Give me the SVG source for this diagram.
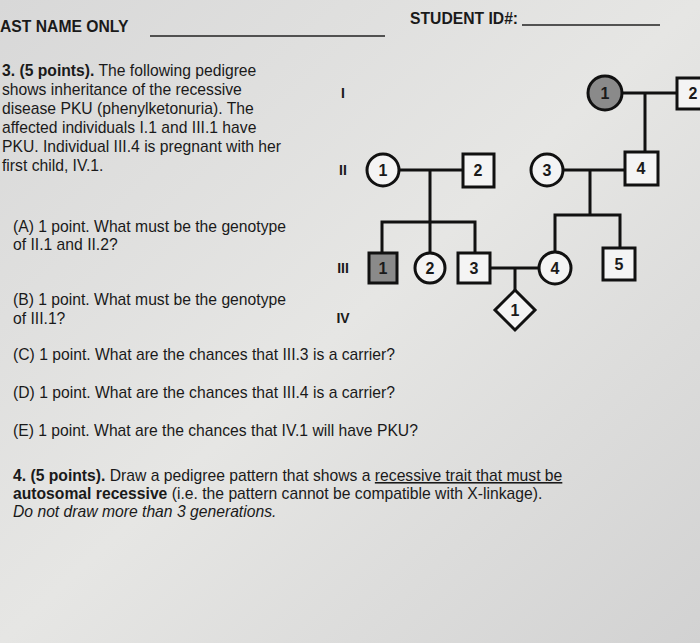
<svg xmlns="http://www.w3.org/2000/svg" width="700" height="643" viewBox="0 0 700 643">
<defs>
<linearGradient id="bg" x1="0" y1="0" x2="1" y2="1">
<stop offset="0" stop-color="#d8d8d8"/><stop offset="0.5" stop-color="#e6e6e4"/><stop offset="1" stop-color="#d2d2d2"/>
</linearGradient>
</defs>
<style>
text{font-family:"Liberation Sans",Arial,sans-serif;fill:#1a1a1a;font-size:15.7px}
.b{font-weight:bold}
.n{font-weight:bold;font-size:16px;text-anchor:middle}
.g{font-weight:bold;font-size:14px;text-anchor:middle}
.s{fill:#f4f4f4;stroke:#111;stroke-width:3}
.a{fill:#8a8a8a;stroke:#111;stroke-width:3}
.l{stroke:#111;stroke-width:3;fill:none}
</style>
<rect width="700" height="643" fill="url(#bg)"/>
<text x="0" y="32" class="b" font-size="15">AST NAME ONLY</text>
<line x1="150" y1="36" x2="385" y2="36" stroke="#222" stroke-width="1.5"/>
<text x="410" y="24" class="b" font-size="15">STUDENT ID#:</text>
<line x1="522" y1="25" x2="660" y2="25" stroke="#222" stroke-width="1.5"/>
<g>
<text x="2" y="76"><tspan class="b">3. (5 points).</tspan> The following pedigree</text>
<text x="2" y="95">shows inheritance of the recessive</text>
<text x="2" y="114">disease PKU (phenylketonuria). The</text>
<text x="2" y="133">affected individuals I.1 and III.1 have</text>
<text x="2" y="152">PKU. Individual III.4 is pregnant with her</text>
<text x="2" y="171">first child, IV.1.</text>
<text x="13" y="232">(A) 1 point. What must be the genotype</text>
<text x="13" y="250">of II.1 and II.2?</text>
<text x="13" y="305">(B) 1 point. What must be the genotype</text>
<text x="13" y="324">of III.1?</text>
<text x="13" y="360">(C) 1 point.  What are the chances that III.3 is a carrier?</text>
<text x="13" y="398">(D) 1 point.  What are the chances that III.4 is a carrier?</text>
<text x="13" y="436">(E) 1 point. What are the chances that IV.1 will have PKU?</text>
<text x="13" y="481" font-size="15"><tspan class="b">4. (5 points).</tspan> Draw a pedigree pattern that shows a <tspan text-decoration="underline">recessive trait that must be</tspan></text>
<text x="13" y="499" font-size="15"><tspan class="b">autosomal recessive</tspan> (i.e. the pattern cannot be compatible with X-linkage).</text>
<text x="13" y="517" font-size="15" font-style="italic">Do not draw more than 3 generations.</text>
</g>
<g id="gen-labels">
<text x="343" y="98" class="g">I</text>
<text x="343" y="175" class="g">II</text>
<text x="343" y="273" class="g">III</text>
<text x="343" y="323" class="g">IV</text>
</g>
<g id="connectors" class="l">
<path class="l" d="M622 93H677M645 93V152"/>
<path class="l" d="M399 170H463M430 170V222M382 253V222H475V253M430 222V253"/>
<path class="l" d="M563 170H625M590 170V215M555 252V215H620V248"/>
<path class="l" d="M490 268H539M515 268V290"/>
</g>
<g id="I1"><circle cx="605" cy="93" r="17" class="a"/><text x="605" y="99" class="n">1</text></g>
<g id="I2"><rect x="677" y="78" width="32" height="31" class="s"/><text x="693" y="99" class="n">2</text></g>
<g id="II1"><circle cx="383" cy="170" r="16" class="s"/><text x="383" y="176" class="n">1</text></g>
<g id="II2"><rect x="463" y="154" width="31" height="33" class="s"/><text x="478" y="176" class="n">2</text></g>
<g id="II3"><circle cx="547" cy="170" r="16" class="s"/><text x="547" y="176" class="n">3</text></g>
<g id="II4"><rect x="625" y="152" width="33" height="33" class="s"/><text x="641" y="174" class="n">4</text></g>
<g id="III1"><rect x="369" y="253" width="28" height="30" class="a"/><text x="383" y="274" class="n">1</text></g>
<g id="III2"><circle cx="430" cy="268" r="15" class="s"/><text x="430" y="274" class="n">2</text></g>
<g id="III3"><rect x="458" y="253" width="32" height="30" class="s"/><text x="474" y="274" class="n">3</text></g>
<g id="III4"><circle cx="555" cy="268" r="16" class="s"/><text x="555" y="274" class="n">4</text></g>
<g id="III5"><rect x="603" y="248" width="32" height="32" class="s"/><text x="619" y="270" class="n">5</text></g>
<g id="IV1"><path d="M515 290L535 310L515 330L495 310Z" class="s"/><text x="515" y="316" class="n">1</text></g>
</svg>
